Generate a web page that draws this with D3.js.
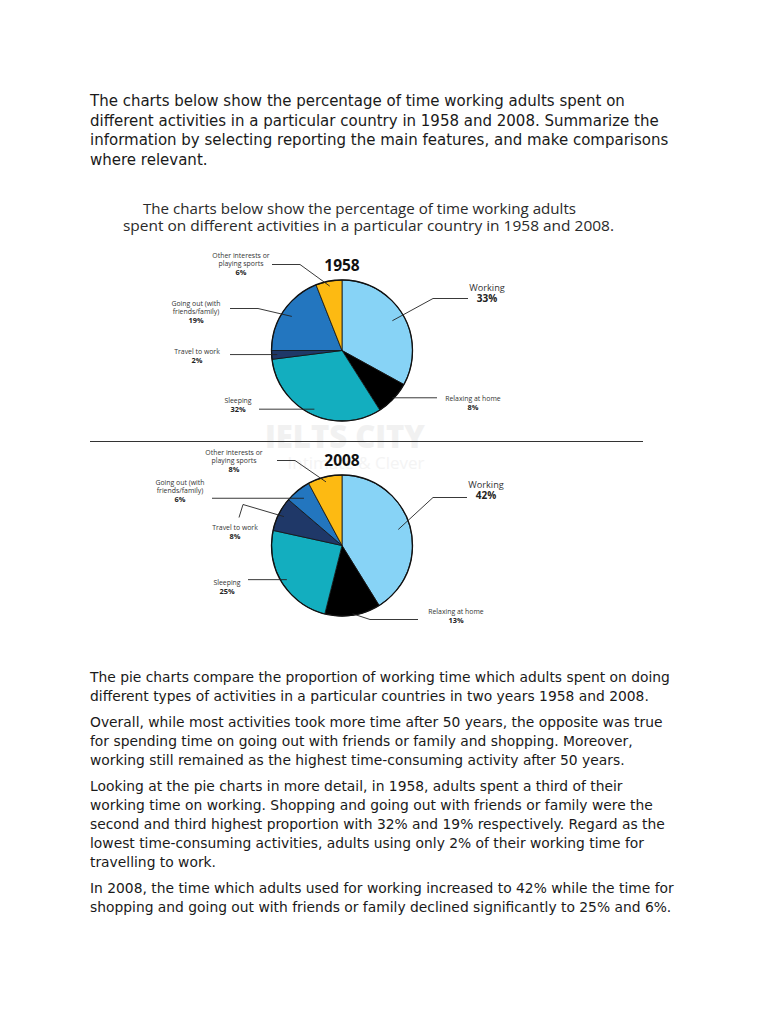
<!DOCTYPE html>
<html><head><meta charset="utf-8">
<script src="https://cdn.jsdelivr.net/npm/d3@7/dist/d3.min.js"></script>
<style>html,body{margin:0;padding:0;background:#fff;}svg{display:block;}</style>
</head><body>
<script>
// ---------- data ----------
const categories = ["Working", "Relaxing at home", "Sleeping", "Travel to work", "Going out (with friends/family)", "Other interests or playing sports"];
const labelLines = [["Working"], ["Relaxing at home"], ["Sleeping"], ["Travel to work"], ["Going out (with", "friends/family)"], ["Other interests or", "playing sports"]];
const years = ["1958", "2008"];
const values1958 = [33, 8, 32, 2, 19, 6];
const values2008 = [42, 13, 25, 8, 6, 8];
const sliceColors = ["#87D3F6", "#000000", "#13AEBF", "#1F3868", "#2376BF", "#FDBA12"];

const introLines = [
  "The charts below show the percentage of time working adults spent on",
  "different activities in a particular country in 1958 and 2008. Summarize the",
  "information by selecting reporting the main features, and make comparisons",
  "where relevant."
];
const chartTitleLines = [
  "The charts  below show the percentage of time working adults",
  "spent on different activities in a particular country in 1958 and 2008."
];
const essay = [
  ["The pie charts compare the proportion of working time which adults spent on doing",
   "different types of activities in a particular countries in two years 1958 and 2008."],
  ["Overall, while most activities took more time after 50 years, the opposite was true",
   "for spending time on going out with friends or family and shopping. Moreover,",
   "working still remained as the highest time-consuming activity after 50 years."],
  ["Looking at the pie charts in more detail, in 1958, adults spent a third of their",
   "working time on working. Shopping and going out with friends or family were the",
   "second and third highest proportion with 32% and 19% respectively. Regard as the",
   "lowest time-consuming activities, adults using only 2% of their working time for",
   "travelling to work."],
  ["In 2008, the time which adults used for working increased to 42% while the time for",
   "shopping and going out with friends or family declined significantly to 25% and 6%."]
];

// ---------- layout ----------
const W = 768, H = 1024;
const svg = d3.select("body").append("svg").attr("width", W).attr("height", H);
svg.append("rect").attr("width", W).attr("height", H).attr("fill", "#fff");

const bodyFont = "'DejaVu Sans', sans-serif";
const chartFont = "'Open Sans', 'Noto Sans', sans-serif";

// intro paragraph
svg.append("g").selectAll("text").data(introLines).join("text")
  .attr("x", 90).attr("y", (d, i) => 106 + i * 19.5)
  .attr("font-family", bodyFont).attr("font-size", 15).attr("fill", "#1a1a1a")
  .text(d => d);

// essay paragraphs
let yy = 682;
const eg = svg.append("g");
essay.forEach(p => {
  p.forEach(line => {
    eg.append("text").attr("x", 90).attr("y", yy)
      .attr("font-family", bodyFont).attr("font-size", 13.85).attr("fill", "#1a1a1a").text(line);
    yy += 19;
  });
  yy += 7;
});

// watermark (faint)
svg.append("text").attr("x", 345).attr("y", 448).attr("text-anchor", "middle")
  .attr("font-family", chartFont).attr("font-weight", 800).attr("font-size", 31)
  .attr("fill", "#f1f1f1").text("IELTS CITY");
svg.append("text").attr("x", 356).attr("y", 469).attr("text-anchor", "middle")
  .attr("font-family", chartFont).attr("font-size", 17)
  .attr("fill", "#f4f4f4").text("Intimate & Clever");

// chart title
const titleX = [[143, 433], [123, 491]];
svg.append("g").selectAll("text").data(chartTitleLines).join("text")
  .attr("x", (d, i) => titleX[i][0]).attr("y", (d, i) => 214 + i * 17)
  .attr("textLength", (d, i) => titleX[i][1]).attr("lengthAdjust", "spacingAndGlyphs")
  .attr("font-family", chartFont).attr("font-size", 14.5).attr("fill", "#2a2a2a")
  .text(d => d);

// separator line
svg.append("line").attr("x1", 90).attr("x2", 643).attr("y1", 441.5).attr("y2", 441.5)
  .attr("stroke", "#333").attr("stroke-width", 1.2);

const R = 70.5;
// leader layout: elbow/end relative to pie centre; null elbow = horizontal from start
const leaders = {
  "1958": [
    {elbow: [91, -52], end: [126, -52], tx: 145, ty: -62, big: true},
    {elbow: null, end: [95], tx: 131, ty: 48},
    {elbow: null, end: [-83], tx: -104, ty: 50},
    {elbow: null, end: [-112], tx: -145, ty: 1},
    {elbow: [-84, -42], end: [-112, -42], tx: -146, ty: -47},
    {elbow: [-42, -86], end: [-70, -86], tx: -101, ty: -95}
  ],
  "2008": [
    {elbow: [91, -48], end: [125, -48], tx: 144, ty: -60, big: true},
    {elbow: [28, 74], end: [76, 74], tx: 114, ty: 66},
    {elbow: null, end: [-94], tx: -115, ty: 37},
    {elbow: [-99, -41], end: [-103, -28], tx: -107, ty: -18},
    {elbow: null, end: [-130], tx: -162, ty: -63},
    {elbow: [-47, -85], end: [-65, -85], tx: -108, ty: -93}
  ]
};
const centers = {"1958": [342, 350.5], "2008": [342, 545.5]};
const seriesByYear = {"1958": values1958, "2008": values2008};

const pie = d3.pie().sort(null).value(d => d.v);
const arc = d3.arc().innerRadius(0).outerRadius(R);
const startFactor = [0.83, 0.98, 0.92, 0.92, 0.86, 0.93];

years.forEach(yr => {
  const [cx, cy] = centers[yr];
  const data = categories.map((c, i) => ({c, v: seriesByYear[yr][i], i}));
  const arcs = pie(data);
  const g = svg.append("g").attr("transform", `translate(${cx},${cy})`);
  g.selectAll("path").data(arcs).join("path")
    .attr("d", arc).attr("fill", d => sliceColors[d.data.i])
    .attr("stroke", "#111").attr("stroke-width", 0.8).attr("stroke-linejoin", "round");
  g.append("circle").attr("r", R).attr("fill", "none").attr("stroke", "#111").attr("stroke-width", 1.3);

  // year heading
  g.append("text").attr("x", 0).attr("y", -80).attr("text-anchor", "middle")
    .attr("font-family", chartFont).attr("font-weight", 700).attr("font-size", 15.5)
    .attr("fill", "#111").text(yr);

  arcs.forEach((a, k) => {
    const L = leaders[yr][k];
    const kr = R * startFactor[k];
    const s = d3.arc().innerRadius(kr).outerRadius(kr).centroid(a);
    let pts;
    if (L.elbow) pts = [s, L.elbow, L.end];
    else pts = [s, [L.end[0], s[1]]];
    g.append("path").attr("d", d3.line()(pts)).attr("fill", "none")
      .attr("stroke", "#222").attr("stroke-width", 0.9);
    const lines = labelLines[k];
    const fs = L.big ? 9.2 : 6.9;
    const lh = L.big ? 10 : 8.3;
    const t = g.append("text").attr("text-anchor", "middle")
      .attr("font-family", chartFont).attr("fill", "#333");
    lines.forEach((ln, j) => {
      t.append("tspan").attr("x", L.tx).attr("y", L.ty + j * lh + 2)
        .attr("font-size", fs).text(ln);
    });
    t.append("tspan").attr("x", L.tx).attr("y", L.ty + lines.length * lh + 3)
      .attr("font-size", L.big ? 10 : 7.4).attr("font-weight", 700).attr("fill", "#222")
      .text(a.data.v + "%");
  });
});
</script>
</body></html>
